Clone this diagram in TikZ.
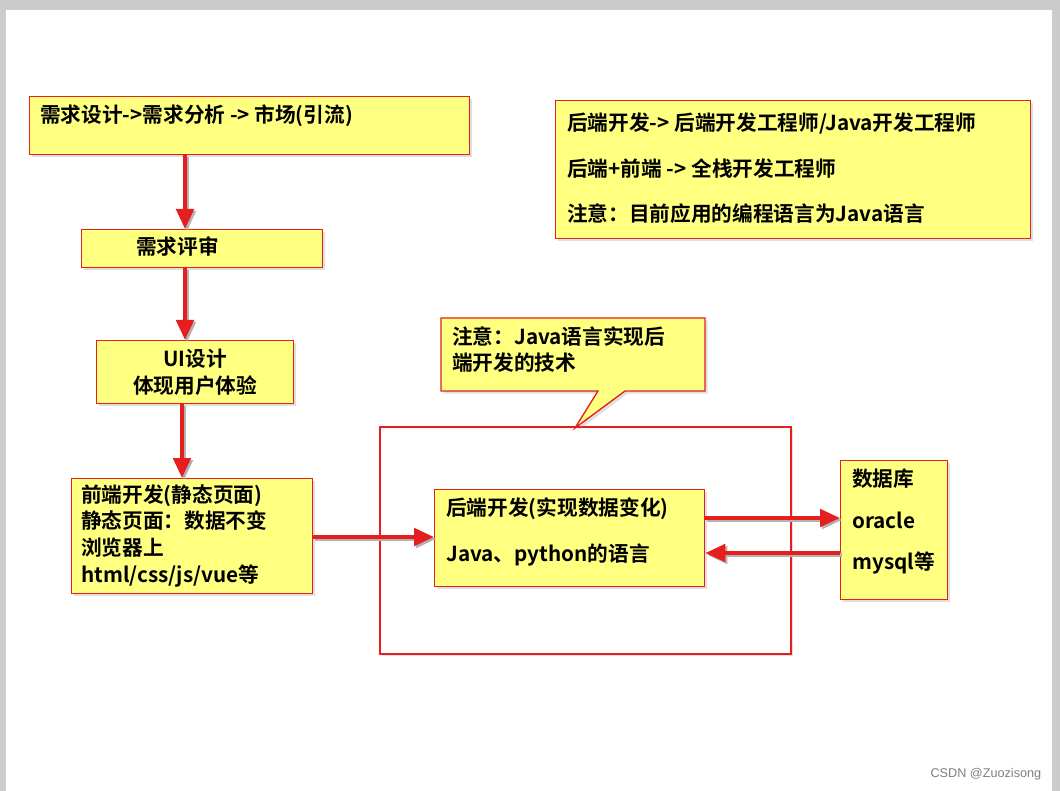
\documentclass[tikz,border=0pt]{standalone}
\usepackage{fontspec}
\setmainfont{Liberation Sans}
\newfontfamily\cjk{Noto Sans CJK SC}[BoldFont={Noto Sans CJK SC Bold}]
\usetikzlibrary{arrows.meta,shadows}
\definecolor{yel}{RGB}{255,255,128}
\definecolor{rd}{RGB}{230,30,30}
\tikzset{
 box/.style={draw=rd,line width=1pt,fill=yel,anchor=north west,inner sep=0pt,
   font=\cjk\bfseries\fontsize{15.5}{20}\selectfont,drop shadow={opacity=0.25,shadow xshift=2pt,shadow yshift=-2pt}},
 arr/.style={draw=rd,line width=3pt,-{Triangle[length=15pt,width=13pt]},
   preaction={draw=black!30,line width=3pt,transform canvas={xshift=1.5pt,yshift=-1.5pt},-{Triangle[length=15pt,width=13pt]}}},
 txt/.style={font=\cjk\bfseries\fontsize{15.5}{20}\selectfont,align=left,anchor=north west,inner sep=0pt}
}
\begin{document}
\begin{tikzpicture}[x=0.75pt,y=-0.75pt]
\fill[gray!40] (0,0) rectangle (1060,791);
\fill[white] (6,10) rectangle (1052,791);
\useasboundingbox (0,0) rectangle (1060,791);
% boxes
\node[box,minimum width=330pt,minimum height=43.5pt] (b1) at (29,96) {};
\node[txt] (t1) at (40,104) {需求设计->需求分析 -> 市场(引流)};
\node[box,minimum width=180.75pt,minimum height=28.5pt] (b2) at (81,229) {};
\node[txt] (t2) at (136,236) {需求评审};
\node[box,minimum width=147.75pt,minimum height=47.25pt,align=center] (b3) at (96,340) {UI设计\\体现用户体验};
\node[box,minimum width=180.75pt,minimum height=86.25pt] (b4) at (71,478) {};
\node[txt] (t4) at (81,484) {前端开发(静态页面)\\静态页面：数据不变\\浏览器上\\html/css/js/vue等};
\node[draw=rd,line width=1.2pt,anchor=north west,minimum width=308.25pt,minimum height=170.25pt,drop shadow={opacity=0.25,shadow xshift=2pt,shadow yshift=-2pt},fill=white] (big) at (379,426) {};
\node[box,minimum width=202.5pt,minimum height=72.75pt] (b5) at (434,489) {};
\node[txt,font=\cjk\bfseries\fontsize{15.5}{34.5}\selectfont] (t5) at (446,497) {后端开发(实现数据变化)\\Java、python的语言};
\node[box,minimum width=80.25pt,minimum height=104.25pt] (b6) at (840,460) {};
\node[txt,font=\cjk\bfseries\fontsize{15.5}{31}\selectfont] (t6) at (852,469) {数据库\\oracle\\mysql等};
\node[box,minimum width=356.25pt,minimum height=103.5pt] (b7) at (555,100) {};
\node[txt,font=\cjk\bfseries\fontsize{15.5}{34}\selectfont] (t7) at (567,113) {后端开发-> 后端开发工程师/Java开发工程师\\后端+前端 -> 全栈开发工程师\\注意：目前应用的编程语言为Java语言};
% callout
\coordinate (tip) at (575,428);
\draw[draw=rd,line width=1pt,fill=yel,drop shadow={opacity=0.25,shadow xshift=2pt,shadow yshift=-2pt}]
 (441,318) -- (705,318) -- (705,391) -- (625,391) -- (tip) -- (598,391) -- (441,391) -- cycle;
\node[txt] (t8) at (452,326) {注意：Java语言实现后\\端开发的技术};
% arrows
\draw[arr] (b1.south -| 185,0) -- (b2.north -| 185,0);
\draw[arr] (b2.south -| 185,0) -- (b3.north -| 185,0);
\draw[arr] (b3.south -| 182,0) -- (b4.north -| 182,0);
\draw[arr] (b4.east |- 0,537) -- (b5.west |- 0,537);
\draw[arr] (b5.east |- 0,518) -- (b6.west |- 0,518);
\draw[arr] (b6.west |- 0,553) -- (b5.east |- 0,553);
\node[font=\fontsize{9.5}{11}\selectfont,text=gray,anchor=east] (cs) at (1046,774) {CSDN @Zuozisong};
\end{tikzpicture}
\end{document}
